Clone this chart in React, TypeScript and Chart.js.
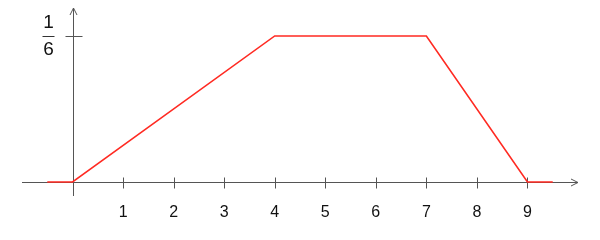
import React, { useEffect, useRef } from "react";
import { Chart, registerables } from "chart.js";

Chart.register(...registerables);

const xs = [-0.5, 0, 4, 7, 9, 9.5];
const density = [0, 0, 1 / 6, 1 / 6, 0, 0];
const xTicks = [1, 2, 3, 4, 5, 6, 7, 8, 9];
const xTickLabels = ["1", "2", "3", "4", "5", "6", "7", "8", "9"];
const yTickValue = 1 / 6;
const yTickNum = "1";
const yTickDen = "6";
const xAxisRange = [-1, 10];

const axesPlugin = {
  id: "customAxes",
  beforeDatasetsDraw(chart: any) {
    const ctx = chart.ctx;
    const xs_ = chart.scales.x;
    const ys_ = chart.scales.y;
    const x0 = xs_.getPixelForValue(0);
    const y0 = ys_.getPixelForValue(0);
    const area = chart.chartArea;
    ctx.save();
    ctx.strokeStyle = "#555";
    ctx.lineWidth = 1;
    // x axis
    const xl = xs_.getPixelForValue(xAxisRange[0]);
    const xr = xs_.getPixelForValue(xAxisRange[1]);
    const yy = Math.round(y0) + 0.5;
    ctx.beginPath();
    ctx.moveTo(xl, yy);
    ctx.lineTo(xr, yy);
    ctx.moveTo(xr - 7, yy - 3.5);
    ctx.lineTo(xr, yy);
    ctx.lineTo(xr - 7, yy + 3.5);
    ctx.stroke();
    // y axis
    const xx = Math.round(x0) + 0.5;
    ctx.beginPath();
    ctx.moveTo(xx, area.bottom);
    ctx.lineTo(xx, area.top);
    ctx.moveTo(xx - 3.5, area.top + 7);
    ctx.lineTo(xx, area.top);
    ctx.lineTo(xx + 3.5, area.top + 7);
    ctx.stroke();
    // x ticks
    ctx.beginPath();
    xTicks.forEach((v) => {
      const px = Math.round(xs_.getPixelForValue(v)) + 0.5;
      ctx.moveTo(px, yy - 5);
      ctx.lineTo(px, yy + 6);
    });
    // y tick
    const ty = Math.round(ys_.getPixelForValue(yTickValue)) + 0.5;
    ctx.moveTo(xx - 8, ty);
    ctx.lineTo(xx + 9, ty);
    ctx.stroke();
    // labels
    ctx.fillStyle = "#111";
    ctx.font = '16px "Liberation Sans", Arial, sans-serif';
    ctx.textAlign = "center";
    ctx.textBaseline = "middle";
    xTicks.forEach((v, i) => {
      const px = xs_.getPixelForValue(v);
      ctx.fillText(xTickLabels[i], px, yy + 30);
    });
    // fraction label
    const fx = xx - 25;
    ctx.font = '19px "Liberation Sans", Arial, sans-serif';
    ctx.fillText(yTickNum, fx, ty - 14);
    ctx.fillText(yTickDen, fx, ty + 13);
    ctx.strokeStyle = "#333";
    ctx.beginPath();
    ctx.moveTo(fx - 6, ty);
    ctx.lineTo(fx + 6, ty);
    ctx.stroke();
    ctx.restore();
  },
};

export default function App() {
  const ref = useRef<HTMLCanvasElement>(null);
  useEffect(() => {
    if (!ref.current) return;
    const chart = new Chart(ref.current, {
      type: "scatter",
      data: {
        datasets: [
          {
            data: xs.map((x, i) => ({ x, y: density[i] })),
            showLine: true,
            borderColor: "#ff2a22",
            borderWidth: 1.6,
            pointRadius: 0,
            tension: 0,
          },
        ],
      },
      options: {
        animation: false,
        responsive: false,
        maintainAspectRatio: false,
        events: [],
        layout: { padding: { left: 22, right: 22, top: 8, bottom: 44 } },
        plugins: { legend: { display: false }, tooltip: { enabled: false } },
        scales: {
          x: { type: "linear", min: -1, max: 10, display: false },
          y: { type: "linear", min: -0.016, max: 0.1986, display: false },
        },
      },
      plugins: [axesPlugin],
    });
    return () => chart.destroy();
  }, []);
  return (
    <div style={{ position: "absolute", left: 0, top: 0, width: 600, height: 240, background: "#fff" }}>
      <canvas ref={ref} width={600} height={240} style={{ width: 600, height: 240 }} />
    </div>
  );
}
